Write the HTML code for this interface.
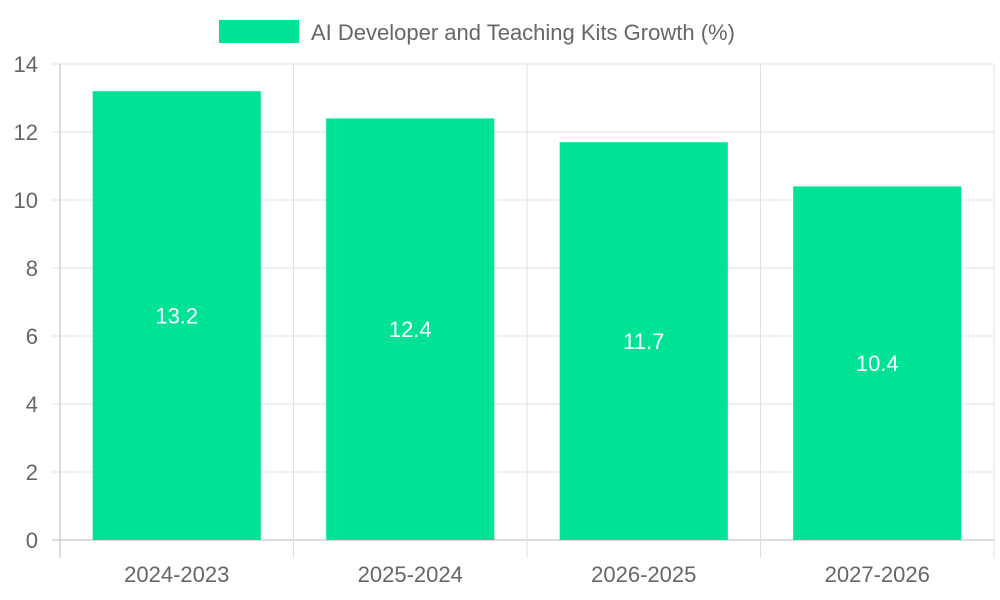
<!DOCTYPE html>
<html><head><meta charset="utf-8"><style>
html,body{margin:0;padding:0;background:#fff;}
svg{display:block;font-family:"Liberation Sans",sans-serif;}
</style></head><body>
<svg id="chart" width="1000" height="600">
  <g>
    <rect x="219" y="20" width="80" height="23" fill="#00e396"></rect>
    <text x="311" y="40" font-size="22" fill="#666">AI Developer and Teaching Kits Growth (%)</text>
  </g>
  <g id="grid"></g>
  <g id="bars"></g>
  <g id="axes"></g>
</svg>
<script>
const categories = ["2024-2023","2025-2024","2026-2025","2027-2026"];
const values = [13.2, 12.4, 11.7, 10.4];
const yTicks = [0,2,4,6,8,10,12,14];

const L=60,R=994,T=64,B=540,yMax=14;
const NS="http://www.w3.org/2000/svg";
const y=v=>B-(v/yMax)*(B-T);
const band=(R-L)/categories.length;
const x=i=>L+i*band;
function mk(tag,attrs,parent){const e=document.createElementNS(NS,tag);for(const k in attrs)e.setAttribute(k,attrs[k]);parent.appendChild(e);return e;}
const grid=document.getElementById('grid'),bars=document.getElementById('bars'),axes=document.getElementById('axes');

yTicks.forEach(t=>{
  const ln=mk('line',{x1:L-8,x2:R,y1:y(t),y2:y(t),stroke:t===0?'#bbb':'#e0e0e0','stroke-width':1},grid);
  
  
  const tx=mk('text',{x:L-22,y:y(t)+8,'font-size':22,fill:'#666','text-anchor':'end'},axes);
  tx.textContent=t;
  
  
});
for(let i=0;i<=categories.length;i++){
  const ln=mk('line',{x1:x(i),x2:x(i),y1:T,y2:B+18,stroke:(i===0)?'#bbb':'#e0e0e0','stroke-width':1},grid);
  
  
}
categories.forEach((c,i)=>{
  const bw=band*0.72, bx=x(i)+(band-bw)/2;
  const r=mk('rect',{x:bx,y:y(values[i]),width:bw,height:B-y(values[i]),fill:'#00e396'},bars);
  
  
  const vl=mk('text',{x:x(i)+band/2,y:(y(values[i])+B)/2+8,'font-size':22,fill:'#fff','text-anchor':'middle'},bars);
  vl.textContent=values[i];
  
  
  const xl=mk('text',{x:x(i)+band/2,y:582,'font-size':22,fill:'#666','text-anchor':'middle'},axes);
  xl.textContent=c;
  
  
});
</script>
</body></html>
